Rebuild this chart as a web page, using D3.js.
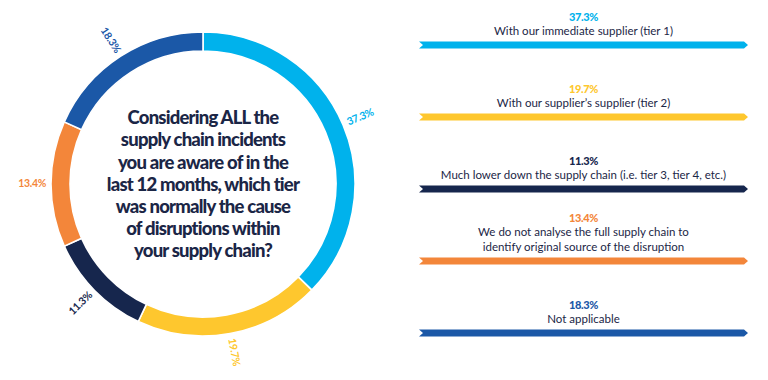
<!DOCTYPE html>
<html>
<head>
<meta charset="utf-8">
<script src="https://cdn.jsdelivr.net/npm/d3@7"></script>
<style>
  html, body { margin: 0; padding: 0; background: #fff; }
  svg { display: block; }
</style>
</head>
<body>
<svg id="chart" width="768" height="380"></svg>
<script>
// ---- data ----
const categories = [
  "With our immediate supplier (tier 1)",
  "With our supplier\u2019s supplier (tier 2)",
  "Much lower down the supply chain (i.e. tier 3, tier 4, etc.)",
  "We do not analyse the full supply chain to\nidentify original source of the disruption",
  "Not applicable"
];
const values = [37.3, 19.7, 11.3, 13.4, 18.3];
const colors = ["#00b2ec", "#fec72e", "#16264d", "#f3863a", "#1b58a7"];
const question = [
  "Considering ALL the",
  "supply chain incidents",
  "you are aware of in the",
  "last 12 months, which tier",
  "was normally the cause",
  "of disruptions within",
  "your supply chain?"
];

const svg = d3.select("#chart");
const textColor = "#1b2646";
const fmt = v => v.toFixed(1) + "%";

// ---- donut ----
const cx = 203, cy = 184, rOuter = 152, rInner = 133;
const pie = d3.pie().sort(null).value(d => d.v);
const data = values.map((v, i) => ({ v, i }));
const arcs = pie(data);
const arc = d3.arc().innerRadius(rInner).outerRadius(rOuter);

const g = svg.append("g").attr("transform", `translate(${cx},${cy})`);
g.selectAll("path.seg")
  .data(arcs)
  .join("path")
  .attr("class", "seg")
  .attr("d", arc)
  .attr("fill", d => colors[d.data.i])
  .attr("stroke", "#fff")
  .attr("stroke-width", 1.6);

const rLabel = 157;
g.selectAll("text.pct")
  .data(arcs)
  .join("text")
  .attr("class", "pct")
  .attr("transform", d => {
    const a = (d.startAngle + d.endAngle) / 2;
    const deg = a * 180 / Math.PI;
    const x = rLabel * Math.sin(a), y = -rLabel * Math.cos(a);
    const rot = deg < 180 ? deg - 90 : deg - 270;
    return `translate(${x},${y}) rotate(${rot})`;
  })
  .attr("text-anchor", d => ((d.startAngle + d.endAngle) / 2) < Math.PI ? "start" : "end")
  .attr("dominant-baseline", "middle")
  .attr("font-family", "Lato, 'Open Sans', sans-serif")
  .attr("font-weight", 700)
  .attr("font-size", 10.5)
  .attr("letter-spacing", -0.3)
  .attr("fill", d => colors[d.data.i])
  .text(d => fmt(d.data.v));

// center question
const qStep = 22.2;
const qTop = cy - qStep * (question.length - 1) / 2;
svg.append("g")
  .selectAll("text")
  .data(question)
  .join("text")
  .attr("x", cx)
  .attr("y", (d, i) => qTop + i * qStep + 2)
  .attr("text-anchor", "middle")
  .attr("dominant-baseline", "middle")
  .attr("font-family", "Lato, 'Open Sans', sans-serif")
  .attr("font-weight", 900)
  .attr("font-size", 18.5)
  .attr("letter-spacing", -0.8)
  .attr("fill", textColor)
  .text(d => d);

// ---- legend bars ----
const y = d3.scalePoint().domain(d3.range(categories.length)).range([45, 333]);
const x = d3.scaleLinear().domain([0, 1]).range([419, 748]);
const barH = 7, tip = 4;
const legendX = (x(0) + x(1)) / 2;

const lg = svg.append("g");
const item = lg.selectAll("g.item")
  .data(categories.map((c, i) => ({ c, i, lines: c.split("\n") })))
  .join("g")
  .attr("class", "item");

item.append("path")
  .attr("d", d => {
    const yc = y(d.i), x0 = x(0), x1 = x(1);
    return `M${x0},${yc - barH / 2}L${x1 - tip},${yc - barH / 2}L${x1},${yc}` +
      `L${x1 - tip},${yc + barH / 2}L${x0},${yc + barH / 2}L${x0 + tip},${yc}Z`;
  })
  .attr("fill", d => colors[d.i]);

item.each(function (d) {
  const sel = d3.select(this);
  const lastY = y(d.i) - 13;
  const n = d.lines.length;
  d.lines.forEach((ln, k) => {
    sel.append("text")
      .attr("x", legendX)
      .attr("y", lastY - (n - 1 - k) * 15)
      .attr("text-anchor", "middle")
      .attr("dominant-baseline", "middle")
      .attr("font-family", "Lato, 'Open Sans', sans-serif")
      .attr("font-size", 11.5)
      .attr("fill", textColor)
      .text(ln);
  });
  sel.append("text")
    .attr("x", legendX)
    .attr("y", lastY - (n - 1) * 15 - 14)
    .attr("text-anchor", "middle")
    .attr("dominant-baseline", "middle")
    .attr("font-family", "Lato, 'Open Sans', sans-serif")
    .attr("font-weight", 900)
    .attr("font-size", 11)
    .attr("letter-spacing", -0.4)
    .attr("fill", colors[d.i])
    .text(fmt(values[d.i]));
});
</script>
</body>
</html>
